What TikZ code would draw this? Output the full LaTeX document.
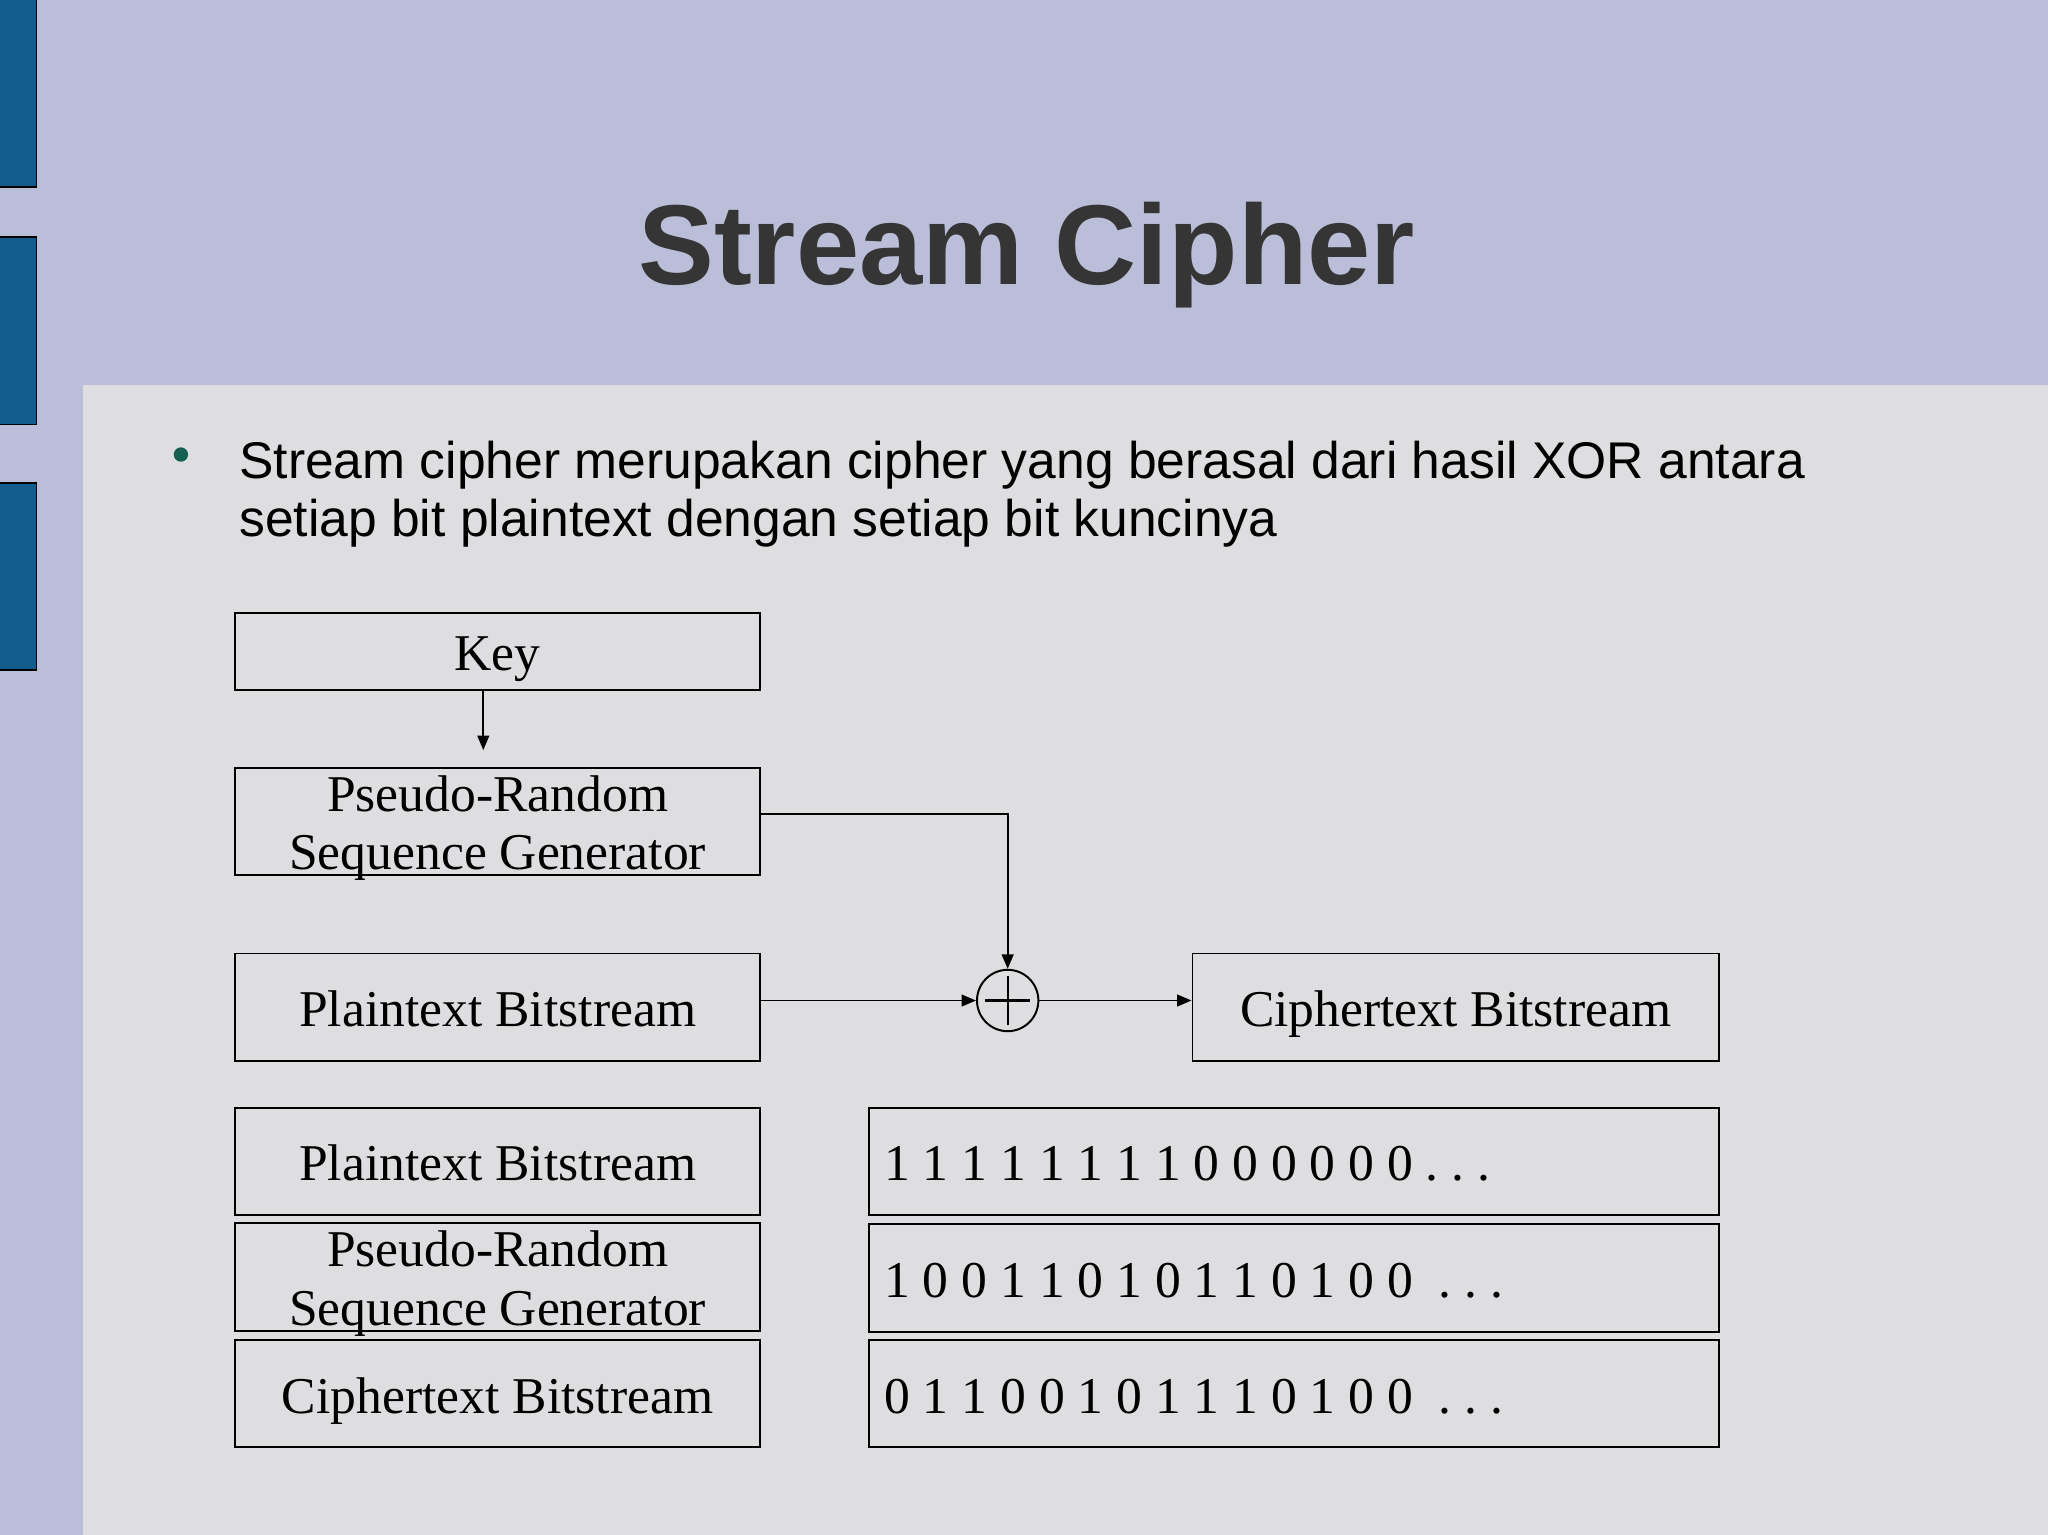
\documentclass[tikz,border=0pt]{standalone}
\usepackage{fontspec}
\setmainfont{Liberation Serif}
\newfontfamily\slidesans{Liberation Sans}
\usetikzlibrary{arrows.meta}
\definecolor{lav}{HTML}{BBBED8}
\definecolor{panelgray}{HTML}{DEDDDF}
\definecolor{barblue}{HTML}{135C8E}
\definecolor{titlegray}{HTML}{353535}
\definecolor{bulletgreen}{HTML}{146050}
\newcommand\diagfont{\fontsize{39.5}{44.5}\selectfont\frenchspacing}
\newcommand\bitrow[1]{\spaceskip=\fontdimen2\font\relax\xspaceskip=\fontdimen2\font\relax #1}
\newcommand\bodyfont{\slidesans\fontsize{39.5}{45}\selectfont}
\begin{document}
\begin{tikzpicture}[x=1pt,y=-1pt,
  box/.style={draw=black, line width=1.5pt, inner sep=0pt, minimum width=402pt,
    minimum height=82pt, font=\diagfont, text height=30pt, text depth=0pt},
  twoline/.style={box, align=center, text height=74pt},
  bitbox/.style={box, minimum width=651pt, text width=627pt, align=flush left},
  arr/.style={-{Triangle[length=11pt,width=9pt]}, line width=1.3pt},
  bar/.style={fill=barblue, draw=black, line width=1.2pt},
  bodyline/.style={anchor=base west, inner sep=0pt, font=\bodyfont}]
% background
\useasboundingbox (0,0) rectangle (1568,1175.2);
\fill[lav] (0,0) rectangle (1568,1175.2);
\fill[panelgray] (63.5,295) rectangle (1570,1177);
% left bars
\filldraw[bar] (-3,-3) rectangle (28,143);
\filldraw[bar] (-3,181.5) rectangle (28,325);
\filldraw[bar] (-3,370) rectangle (28,513);
% title
\node[anchor=base, inner sep=0pt, text=titlegray,
  font={\slidesans\bfseries\fontsize{87}{100}\selectfont}] (title) at (786,218) {Stream Cipher};
% bullet text
\node[circle, fill=bulletgreen, minimum size=11pt, inner sep=0pt] (bullet) at (138.5,348) {};
\node[bodyline] (body1) at (183,366) {Stream cipher merupakan cipher yang berasal dari hasil XOR antara};
\node[bodyline] (body2) at (183,411) {setiap bit plaintext dengan setiap bit kuncinya};
% upper diagram
\node[box, minimum height=59pt] (key) at (381,498.5) {Key};
\node[twoline] (prsg) at (381,629) {Pseudo-Random\\Sequence Generator};
\node[box] (plain) at (381,771) {Plaintext Bitstream};
\node[box, minimum width=403pt] (cipher) at (1114.5,771) {Ciphertext Bitstream};
\node[circle, draw=black, line width=1.5pt, minimum size=47pt, inner sep=0pt] (xor) at (771.5,766) {};
\draw[line width=1.6pt] ([xshift=-17pt]xor.center) -- ([xshift=17pt]xor.center);
\draw[line width=1.6pt] ([yshift=-19pt]xor.center) -- ([yshift=19pt]xor.center);
\draw[arr, shorten >=13pt] ([xshift=-11pt]key.south) -- ([xshift=-11pt]prsg.north);
\draw[arr] ([yshift=6pt]prsg.east) -| (xor.north);
\draw[arr] (plain.east |- xor.west) -- (xor.west);
\draw[arr] (xor.east) -- (xor.east -| cipher.west);
% lower table
\node[box] (plain2) at (381,889) {Plaintext Bitstream};
\node[twoline, minimum height=83pt] (prsg2) at (381,977.5) {Pseudo-Random\\Sequence Generator};
\node[box] (cipher2) at (381,1067) {Ciphertext Bitstream};
\node[bitbox] (bits1) at (990.5,889) {\bitrow{1 1 1 1 1 1 1 1 0 0 0 0 0 0 . . .}};
\node[bitbox, minimum height=83pt] (bits2) at (990.5,978.5) {\bitrow{1 0 0 1 1 0 1 0 1 1 0 1 0 0\ \ . . .}};
\node[bitbox] (bits3) at (990.5,1067) {\bitrow{0 1 1 0 0 1 0 1 1 1 0 1 0 0\ \ . . .}};
\end{tikzpicture}
\end{document}
